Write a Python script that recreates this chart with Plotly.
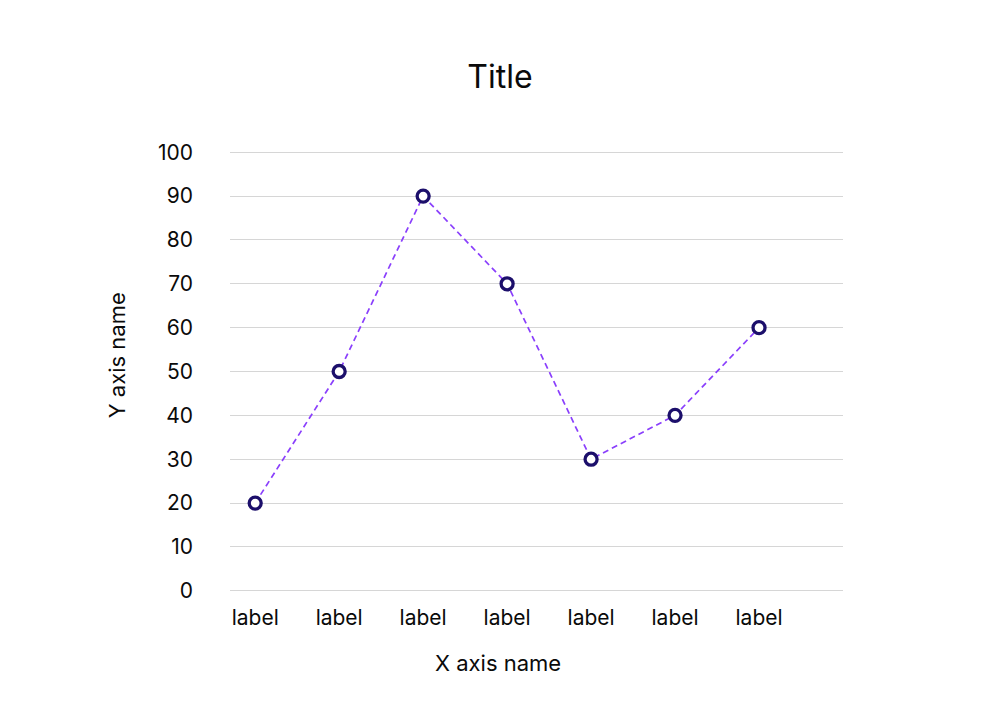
import plotly.graph_objects as go

labels = ["label", "label", "label", "label", "label", "label", "label"]
values = [20, 50, 90, 70, 30, 40, 60]
yticks = [0, 10, 20, 30, 40, 50, 60, 70, 80, 90, 100]

xpos = list(range(len(labels)))

fig = go.Figure(go.Scatter(
    x=xpos,
    y=values,
    mode="lines+markers",
    line={"color": "#8a3ffc", "width": 1.7, "dash": "6px,4px"},
    marker={"size": 12, "color": "white", "line": {"color": "#1c0f6b", "width": 3.3}},
    showlegend=False))

# the page puts the figure 8px in from the top-left corner
fig.update_layout(
    width=1000, height=721,
    paper_bgcolor="white", plot_bgcolor="white",
    font={"family": "Inter", "size": 21, "color": "#0a0a0a"},
    title={"text": "Title", "x": 0.492, "xref": "container", "y": 0.9043,
           "xanchor": "center", "yanchor": "middle",
           "font": {"size": 32, "color": "#0a0a0a"}},
    margin={"l": 222, "r": 165, "t": 142, "b": 136})

fig.update_xaxes(
    range=[-0.3, 7], tickvals=xpos, ticktext=labels,
    showgrid=False, zeroline=False, showline=False,
    ticklabelstandoff=10)

fig.update_yaxes(
    range=[-0.5, 100.5], tickvals=yticks,
    showgrid=True, gridcolor="#d6d6d6", gridwidth=1,
    zeroline=False, showline=False,
    ticklabelstandoff=36)

# axis names sit off-centre in the original, so place them by hand
fig.add_annotation(text="X axis name", xref="paper", yref="paper",
                   x=0.437, y=-0.158, xanchor="center", yanchor="middle",
                   showarrow=False, font={"size": 22})
fig.add_annotation(text="Y axis name", xref="paper", yref="paper",
                   x=-0.184, y=0.537, xanchor="center", yanchor="middle",
                   textangle=-90, showarrow=False, font={"size": 22})

fig.write_html("out.html")
